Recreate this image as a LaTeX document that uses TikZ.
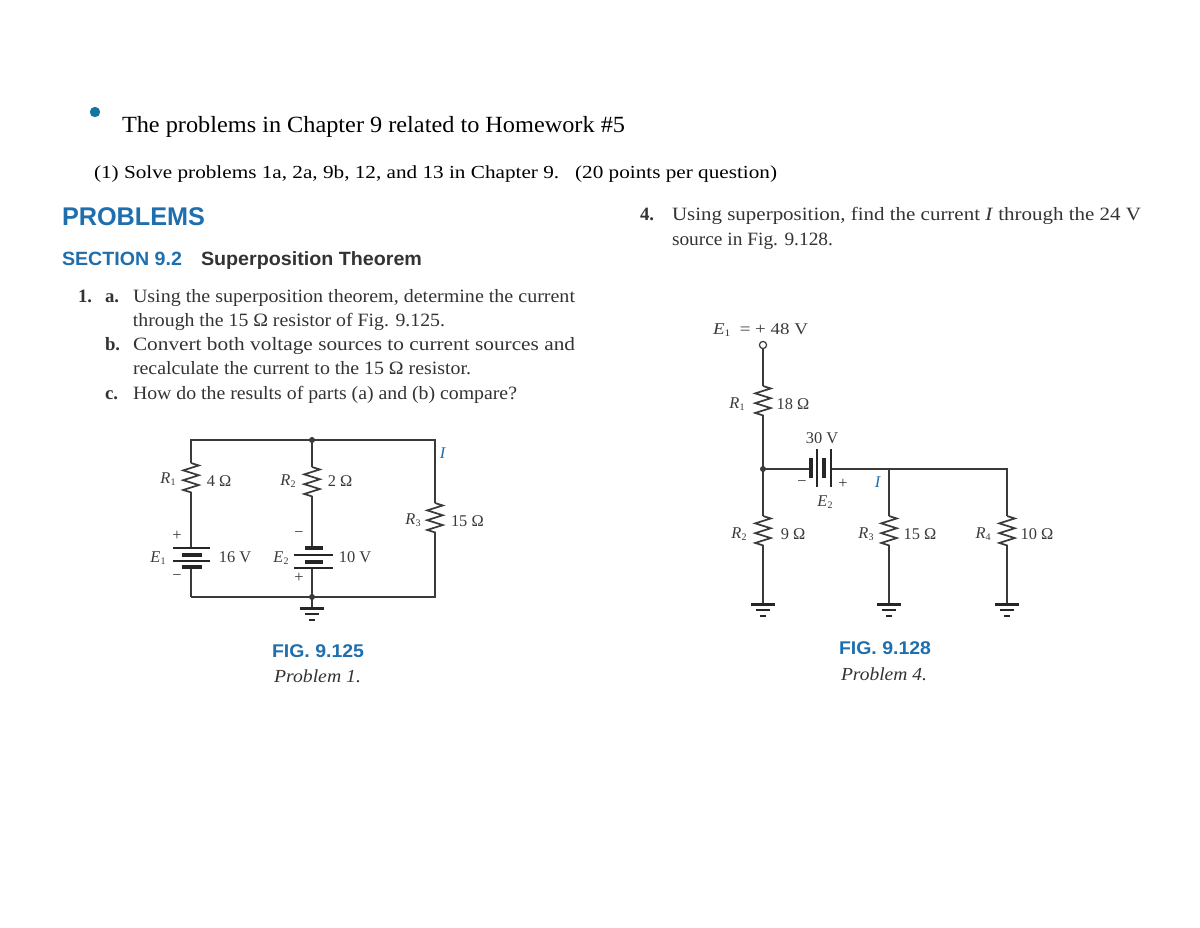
\documentclass[tikz,border=0pt]{standalone}
\usepackage{fontspec}
\usepackage{graphicx}
\setmainfont{Liberation Serif}
\newfontfamily\hs{Liberation Sans}
\usetikzlibrary{decorations.pathmorphing}
\definecolor{bookblue}{HTML}{1F6FAE}
\definecolor{ink}{HTML}{3A3A3A}
\newcommand\fz[1]{\fontsize{#1}{#1}\selectfont}
\newcommand\fitw[2]{\resizebox{#1pt}{\height}{#2}}
\newcommand\sym[2]{\textit{#1}\raisebox{-1.2pt}{\fz{5}#2}}
\tikzset{
  x=0.5pt,y=-0.5pt,
  lbl/.style={inner sep=0pt,outer sep=0pt,text=ink,font=\fz{8.2}},
  para/.style={inner sep=0pt,outer sep=0pt,anchor=base west,text=black!80,font=\fz{9.4}},
  wire/.style={draw=ink,line width=0.6pt},
  res/.style={draw=ink,line width=0.85pt,decorate,decoration={zigzag,segment length=4.9pt,amplitude=3.9pt}},
  thinplate/.style={draw=black!85,line width=0.8pt},
  thickplate/.style={draw=black!85,line width=1.7pt},
  dot/.style={circle,fill=ink,inner sep=0pt,minimum size=3pt},
  openterm/.style={circle,draw=ink,fill=white,line width=0.6pt,inner sep=0pt,minimum size=3.6pt},
  gnd/.pic={
    \draw[draw=black!85,line width=1.5pt] (-12,0)--(12,0);
    \draw[draw=black!85,line width=1.3pt] (-7,6)--(7,6);
    \draw[draw=black!85,line width=1.3pt] (-3,12)--(3,12);
  }
}
\begin{document}
\begin{tikzpicture}
\useasboundingbox[fill=white] (0,0) rectangle (1200,927);
% header
\fill[bookblue!70!teal] (95,112) circle (2.6pt);
\node[para,text=black,font=\fz{11.6}] (head) at (122,132) {\fitw{251.5}{The problems in Chapter 9 related to Homework \#5}};
\node[para,text=black,font=\fz{9.2}] (sub) at (94,178) {\fitw{341.5}{(1) Solve problems 1a, 2a, 9b, 12, and 13 in Chapter 9.\ \ \ (20 points per question)}};
\node[para,text=bookblue,font=\fz{12.8}\hs\bfseries] (prob) at (62,225) {\fitw{71.5}{PROBLEMS}};
\node[para,text=bookblue,font=\fz{9.6}\hs\bfseries] (sec) at (62,265) {\fitw{60}{SECTION 9.2}};
\node[para,text=black!80,font=\fz{9.6}\hs\bfseries] (sect) at (201,265) {\fitw{110.5}{Superposition Theorem}};
% problem 1
\node[para,font=\fz{9.4}\bfseries] (n1) at (78,302) {1.};
\node[para,font=\fz{9.4}\bfseries] (na) at (105,302) {a.};
\node[para] (l1) at (133,302) {\fitw{221}{Using the superposition theorem, determine the current}};
\node[para] (l2) at (133,326) {\fitw{156}{through the 15 Ω resistor of Fig. 9.125.}};
\node[para,font=\fz{9.4}\bfseries] (nb) at (105,350) {b.};
\node[para] (l3) at (133,350) {\fitw{221}{Convert both voltage sources to current sources and}};
\node[para] (l4) at (133,374) {\fitw{169}{recalculate the current to the 15 Ω resistor.}};
\node[para,font=\fz{9.4}\bfseries] (nc) at (105,399) {c.};
\node[para] (l5) at (133,399) {\fitw{192}{How do the results of parts (a) and (b) compare?}};
% problem 4
\node[para,font=\fz{9.4}\bfseries] (n4) at (640,220) {4.};
\node[para] (r1) at (672,220) {\fitw{234.5}{Using superposition, find the current \textit{I} through the 24 V}};
\node[para] (r2) at (672,245) {\fitw{80.5}{source in Fig. 9.128.}};
% captions
\node[para,text=bookblue,font=\fz{9.2}\hs\bfseries] (f1) at (272,657) {\fitw{46}{FIG. 9.125}};
\node[para,font=\fz{9.2}\itshape] (p1) at (274,682) {\fitw{43.5}{Problem 1.}};
\node[para,text=bookblue,font=\fz{9.2}\hs\bfseries] (f2) at (839,654) {\fitw{46}{FIG. 9.128}};
\node[para,font=\fz{9.2}\itshape] (p2) at (841,680) {\fitw{43}{Problem 4.}};

% ---------- Fig 9.125
\coordinate (tl) at (191,440); \coordinate (tm) at (312,440); \coordinate (tr) at (435,440);
\coordinate (bl) at (191,597); \coordinate (bm) at (312,597); \coordinate (br) at (435,597);
\coordinate (r1t) at (191,463); \coordinate (r1b) at (191,496);
\coordinate (r2t) at (312,467); \coordinate (r2b) at (312,497);
\coordinate (r3t) at (435,503); \coordinate (r3b) at (435,536);
\coordinate (e1t) at (191,548); \coordinate (e1b) at (191,567);
\coordinate (e2t) at (312,548); \coordinate (e2b) at (312,568);
\coordinate (g0) at (312,608);
\draw[wire] (bl)--(e1b) (e1t)--(r1b) (r1t)--(tl)--(tr)--(r3t) (r3b)--(br)--(bl);
\draw[wire] (tm)--(r2t) (r2b)--(e2t) (e2b)--(bm)--(g0);
\draw[res] (r1t)--(r1b);
\draw[res] (r2t)--(r2b);
\draw[res] (r3t)--(r3b);
\node[dot] (j1) at (tm) {};
\node[dot] (j2) at (bm) {};
\pic at (g0) {gnd};
% E1 plates
\draw[thinplate] (173,548)--(210,548) (173,561)--(210,561);
\draw[thickplate] (182,555)--(202,555) (182,567)--(202,567);
% E2 plates
\draw[thickplate] (305,548)--(323,548) (305,562)--(323,562);
\draw[thinplate] (294,555)--(333,555) (294,568)--(333,568);
\node[lbl] (a1) at (168,479) {\sym{R}{1}};
\node[lbl] (a2) at (219,481) {4 Ω};
\node[lbl] (a3) at (288,481) {\sym{R}{2}};
\node[lbl] (a4) at (340,481) {2 Ω};
\node[lbl] (a5) at (413,520) {\sym{R}{3}};
\node[lbl,anchor=west] (a6) at (451,521) {15 Ω};
\node[lbl] (a7) at (177,536) {+};
\node[lbl] (a8) at (158,558) {\sym{E}{1}};
\node[lbl] (a9) at (235,557) {16 V};
\node[lbl] (a10) at (177,578) {−};
\node[lbl] (a11) at (281,558) {\sym{E}{2}};
\node[lbl] (a12) at (355,557) {10 V};
\node[lbl] (a13) at (299,535) {−};
\node[lbl] (a14) at (299,578) {+};
\node[lbl,text=bookblue] (a15) at (443,453) {\textit{I}};

% ---------- Fig 9.128
\coordinate (t) at (763,345); \coordinate (j) at (763,469);
\coordinate (q1t) at (763,386); \coordinate (q1b) at (763,418);
\coordinate (q2t) at (763,516); \coordinate (q2b) at (763,548);
\coordinate (q3t) at (889,516); \coordinate (q3b) at (889,548);
\coordinate (q4t) at (1007,516); \coordinate (q4b) at (1007,548);
\coordinate (n3) at (889,469); \coordinate (n4c) at (1007,469);
\coordinate (bneg) at (811,469); \coordinate (bpos) at (831,469);
\coordinate (g2) at (763,604); \coordinate (g3) at (889,604); \coordinate (g4) at (1007,604);
\draw[wire] (t)--(q1t) (q1b)--(q2t) (q2b)--(g2);
\draw[wire] (j)--(bneg) (bpos)--(n4c)--(q4t) (q4b)--(g4);
\draw[wire] (n3)--(q3t) (q3b)--(g3);
\draw[res] (q1t)--(q1b);
\draw[res] (q2t)--(q2b);
\draw[res] (q3t)--(q3b);
\draw[res] (q4t)--(q4b);
\node[openterm] (term) at (t) {};
\node[dot] (j3) at (j) {};
\pic at (g2) {gnd};
\pic at (g3) {gnd};
\pic at (g4) {gnd};
\draw[thickplate] (811,458)--(811,478) (824,458)--(824,478);
\draw[thinplate] (817,449)--(817,487) (831,449)--(831,487);
\node[lbl,anchor=west] (b1) at (713,330) {\fitw{47.5}{\sym{E}{1}\ \ =\ + 48 V}};
\node[lbl] (b2) at (737,404) {\sym{R}{1}};
\node[lbl] (b3) at (793,404) {18 Ω};
\node[lbl] (b4) at (822,438) {30 V};
\node[lbl] (b5) at (802,484) {−};
\node[lbl] (b6) at (843,484) {+};
\node[lbl] (b7) at (825,502) {\sym{E}{2}};
\node[lbl,text=bookblue] (b8) at (878,482) {\textit{I}};
\node[lbl] (b9) at (739,534) {\sym{R}{2}};
\node[lbl] (b10) at (793,534) {9 Ω};
\node[lbl] (b11) at (866,534) {\sym{R}{3}};
\node[lbl] (b12) at (920,534) {15 Ω};
\node[lbl] (b13) at (983,534) {\sym{R}{4}};
\node[lbl] (b14) at (1037,534) {10 Ω};
\end{tikzpicture}
\end{document}
